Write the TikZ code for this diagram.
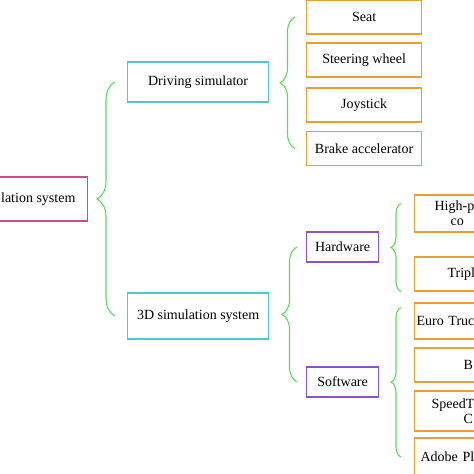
\documentclass[tikz,border=0pt]{standalone}
\usepackage{fontspec}
\setmainfont{Liberation Serif}
\usetikzlibrary{decorations.pathreplacing}
\definecolor{rootpink}{HTML}{D4488C}
\definecolor{simcyan}{HTML}{4CC8D0}
\definecolor{subpurple}{HTML}{8C52C8}
\definecolor{leaforange}{HTML}{E9A032}
\definecolor{bracegreen}{HTML}{5CDB5C}
\begin{document}
\begin{tikzpicture}[x=1pt,y=-1pt,
  font=\fontsize{14}{15}\selectfont,
  rootbox/.style={draw=rootpink,line width=1.2pt,minimum height=44pt,inner xsep=12pt,anchor=east},
  mainbox/.style={draw=simcyan,line width=1.2pt,minimum width=141pt,minimum height=40pt,anchor=west},
  subbox/.style={draw=subpurple,line width=1.2pt,minimum width=72pt,minimum height=30pt,anchor=west},
  leafbox/.style={draw=leaforange,line width=1.2pt,minimum width=115pt,minimum height=34pt,anchor=west},
  cutbox/.style={draw=leaforange,line width=1.2pt,anchor=west,align=left,text width=100pt,inner xsep=4pt,minimum height=34pt},
  curly/.style={draw=bracegreen,line width=1.1pt,decorate,decoration={brace,amplitude=#1}}]
  \useasboundingbox (0,0) rectangle (474,474);
  % root, cut at the left edge
  \node[rootbox] (root) at (88,199) {lation system};
  % first level
  \node[mainbox] (dsim)  at (127,82)  {Driving simulator};
  \node[mainbox,minimum height=46pt] (sim3d) at (127,316) {3D simulation system};
  % driving simulator parts
  \node[leafbox] (seat)  at (306,17)  {Seat};
  \node[leafbox] (steer) at (306,60)  {Steering wheel};
  \node[leafbox] (joy)   at (306,105) {Joystick};
  \node[leafbox] (brake) at (306,148.5) {Brake accelerator};
  % 3D simulation parts
  \node[subbox] (hard) at (306,247) {Hardware};
  \node[subbox] (soft) at (306,382) {Software};
  % cut at the right edge
  \node[cutbox,minimum height=37pt] (highp) at (414,213.5) {\hspace*{16pt}High-p\\\hspace*{32pt}co};
  \node[cutbox] (tripl) at (414,274) {\hspace*{29pt}Tripl};
  \node[cutbox,minimum height=36pt,inner xsep=2pt] (euro) at (414,321) {Euro Truc};
  \node[cutbox] (bl) at (414,365) {\hspace*{45pt}B};
  \node[cutbox,minimum height=40pt] (speed) at (414,411) {\hspace*{13pt}SpeedT\\\hspace*{45pt}C};
  \node[cutbox,minimum height=38pt,inner xsep=2pt] (adobe) at (414,457) {\hspace*{4pt}Adobe Pl};
  % braces
  \draw[curly=18pt] ([xshift=-12pt]sim3d.west) -- ([xshift=-12pt]dsim.west);
  \draw[curly=15pt] ([xshift=-11pt]brake.west) -- ([xshift=-11pt]seat.west);
  \draw[curly=15pt] ([xshift=-9pt]soft.west) -- ([xshift=-9pt]hard.west);
  \draw[curly=10pt] ([xshift=-13pt]tripl.south west) -- ([xshift=-13pt,yshift=-9pt]highp.north west);
  \draw[curly=10pt] ([xshift=-13pt]adobe.west) -- ([xshift=-13pt,yshift=-5pt]euro.north west);
\end{tikzpicture}
\end{document}
